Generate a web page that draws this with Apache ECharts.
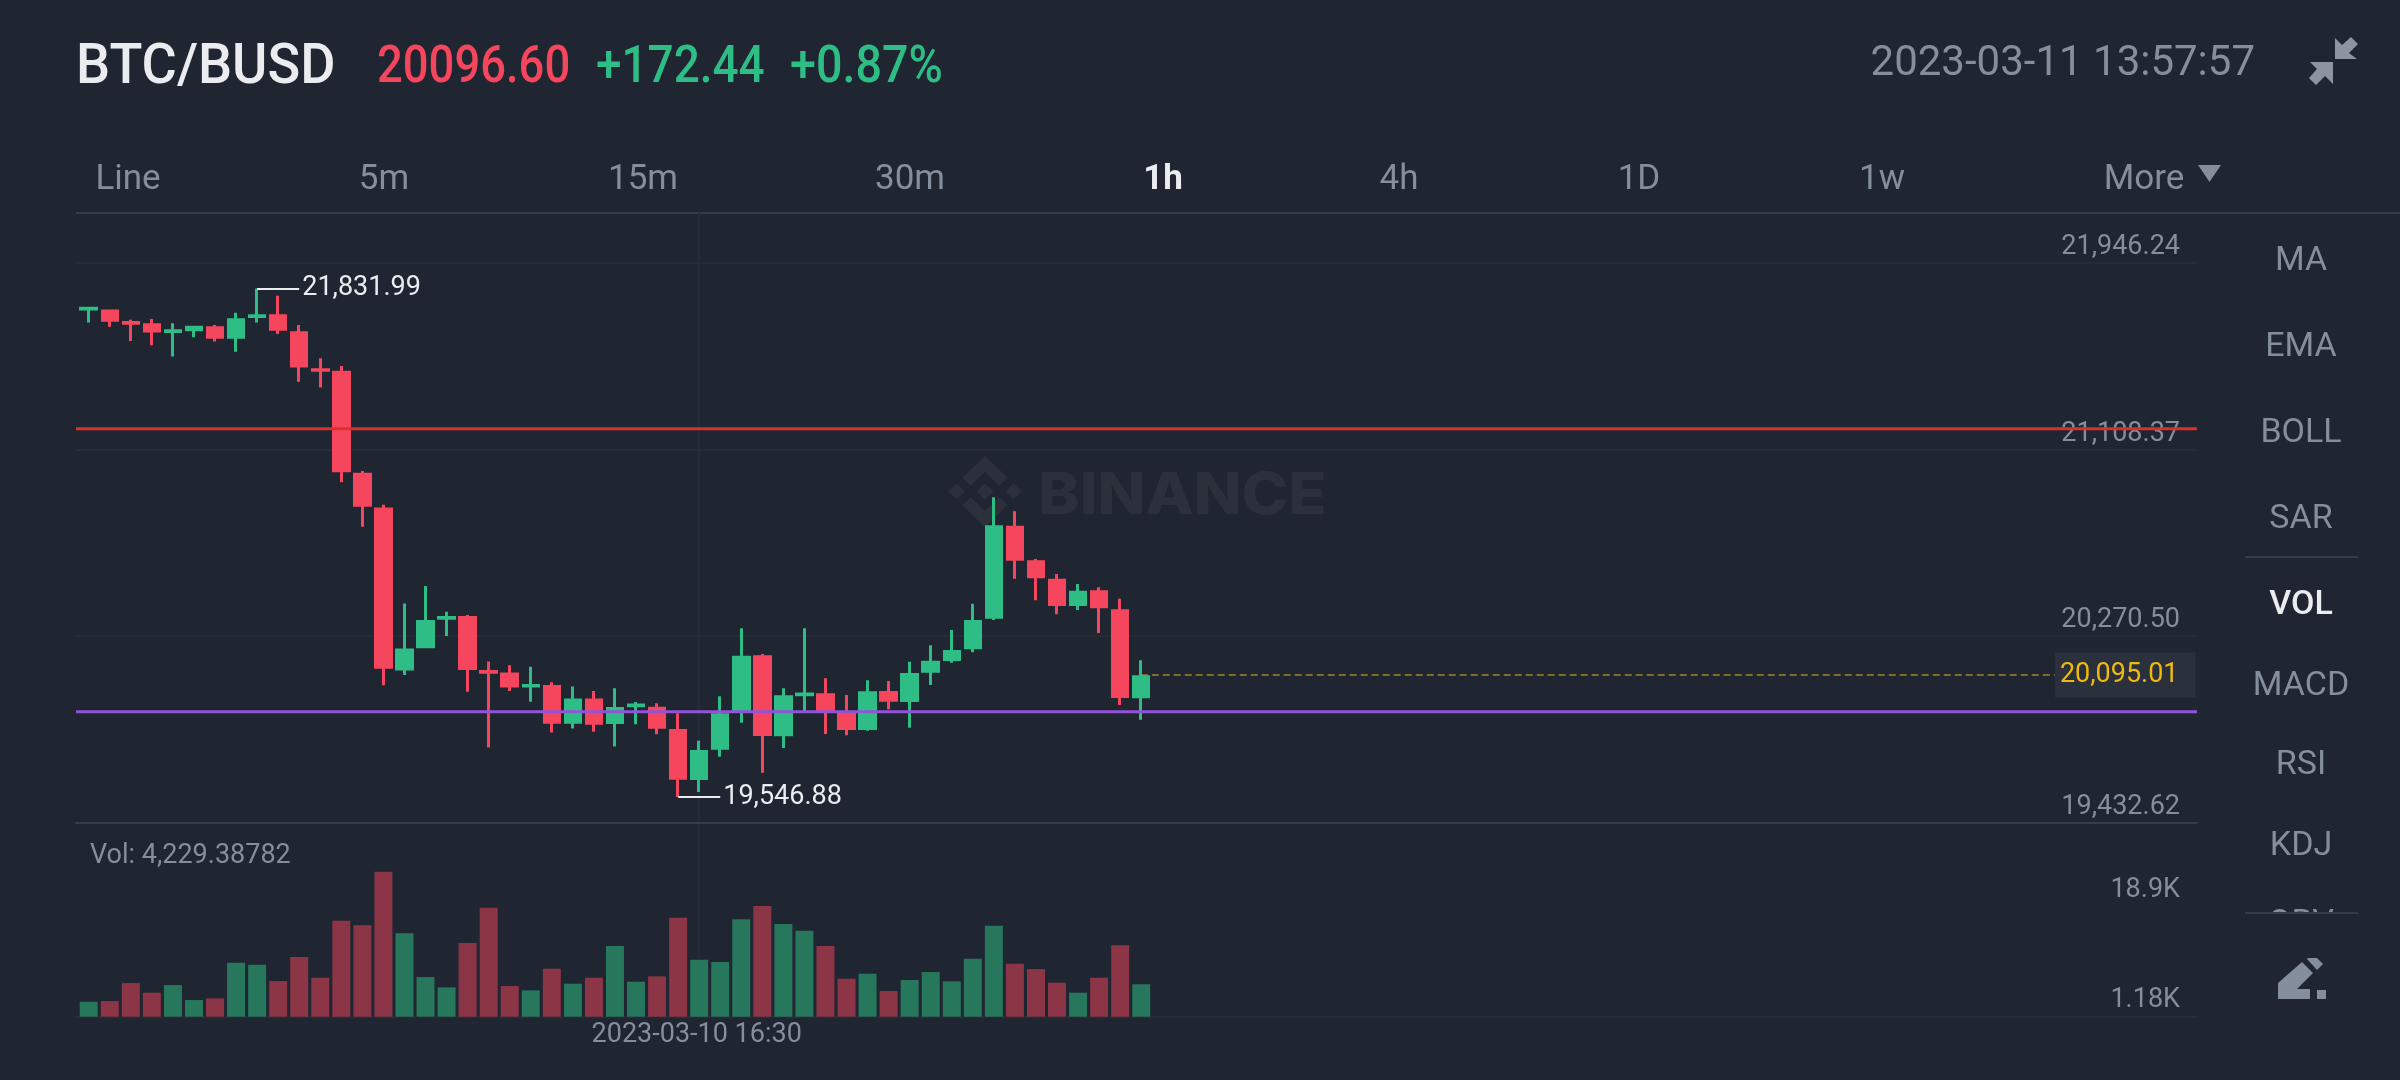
<!DOCTYPE html>
<html>
<head>
<meta charset="utf-8">
<title>BTC/BUSD</title>
<script src="https://cdn.jsdelivr.net/npm/echarts@6/dist/echarts.min.js"></script>
<style>
	html, body { margin: 0; padding: 0; background: #1f2531; }
	#kline { width: 2400px; height: 1080px; }
</style>
</head>
<body>
<div id="kline"></div>
<script>
	// 1h candles
	var times = ['2023-03-09 11:30', '2023-03-09 12:30', '2023-03-09 13:30', '2023-03-09 14:30', '2023-03-09 15:30', '2023-03-09 16:30', '2023-03-09 17:30', '2023-03-09 18:30', '2023-03-09 19:30', '2023-03-09 20:30', '2023-03-09 21:30', '2023-03-09 22:30', '2023-03-09 23:30',
		'2023-03-10 00:30', '2023-03-10 01:30', '2023-03-10 02:30', '2023-03-10 03:30', '2023-03-10 04:30', '2023-03-10 05:30', '2023-03-10 06:30', '2023-03-10 07:30', '2023-03-10 08:30', '2023-03-10 09:30', '2023-03-10 10:30', '2023-03-10 11:30', '2023-03-10 12:30', '2023-03-10 13:30', '2023-03-10 14:30', '2023-03-10 15:30', '2023-03-10 16:30', '2023-03-10 17:30', '2023-03-10 18:30', '2023-03-10 19:30', '2023-03-10 20:30', '2023-03-10 21:30', '2023-03-10 22:30', '2023-03-10 23:30',
		'2023-03-11 00:30', '2023-03-11 01:30', '2023-03-11 02:30', '2023-03-11 03:30', '2023-03-11 04:30', '2023-03-11 05:30', '2023-03-11 06:30', '2023-03-11 07:30', '2023-03-11 08:30', '2023-03-11 09:30', '2023-03-11 10:30', '2023-03-11 11:30', '2023-03-11 12:30', '2023-03-11 13:30'];
	var opens = [21740, 21730.3, 21679, 21669.3, 21639, 21646.8, 21654.9, 21613.1, 21706, 21709.4, 21632.4, 21467, 21455.9, 20997, 20841.4, 20122.5, 20222, 20350, 20353.6, 20111, 20100, 20045.5, 20043.9, 19883.5, 19983, 19881.9,
		19957.5, 19946.3, 19846, 19630.3, 19766.6, 19935.1, 20176.9, 19826.5, 20007, 20006.2, 19920.1, 19855, 20016.7, 19980.7, 20112.5, 20164.9, 20217.3, 20355.1, 20759.4, 20603.7, 20521.3, 20412, 20468.9, 20383.6, 19997.2];
	var closes = [21743, 21688.6, 21676, 21640.4, 21642, 21658.1, 21613.1, 21691.8, 21709, 21648.4, 21483.2, 21464, 21013, 20857.4, 20130.6, 20207.6, 20336, 20353.5, 20124.1, 20108, 20045.5, 20048.5, 19883.5, 19983, 19878.7, 19944.4,
		19960.5, 19860.9, 19631.8, 19751.6, 19916.3, 20175.4, 19828, 19997.2, 20010, 19936.5, 19855, 20015.2, 19982.2, 20097.5, 20153, 20200.9, 20335.6, 20761, 20615.7, 20536.3, 20412, 20467.4, 20401.5, 19998.7, 20087];
	var lows = [21678.9, 21659.7, 21595.5, 21576.2, 21526.5, 21613.1, 21593.9, 21547.3, 21678.9, 21627.6, 21412.6, 21386.9, 20961.7, 20761, 20048.7, 20095.2, 20215.6, 20270.2, 20019.9, 19769.5, 20023, 19974.9, 19836.9, 19854.6, 19840.2, 19774.4,
		19873.7, 19828.7, 19546.88, 19569.7, 19728.4, 19881.1, 19656.5, 19767.3, 19930.6, 19830, 19824.2, 19845, 19941, 19858.7, 20050.4, 20150.7, 20197.1, 20342.4, 20528.1, 20430.7, 20367.8, 20387.3, 20284, 19960.5, 19894.6];
	var highs = [21747.9, 21736.7, 21691.8, 21695, 21675.7, 21664.5, 21667.7, 21722.2, 21831.99, 21799.3, 21667.7, 21518.5, 21483.2, 21011.4, 20860.6, 20416.1, 20494.8, 20379.2, 20364.8, 20156.2, 20138.6, 20132.1, 20063.2, 20043.9, 20023, 20035.9,
		19974, 19968, 19923.1, 19800.3, 20000, 20304.9, 20189.6, 20035.4, 20304.9, 20080.3, 20005.4, 20071.3, 20068.3, 20155.2, 20228.6, 20297.5, 20415.8, 20893.5, 20830.6, 20616.4, 20549, 20504.1, 20489.1, 20438.2, 20161.2];
	var volumes = [1954, 2041, 4386, 3127, 4126, 2172, 2389, 7036, 6775, 4647, 7774, 5081, 12508, 11900, 18892, 10858, 5168, 3822, 9598, 14202, 3996, 3431, 6254, 4300, 5081, 9207,
		4560, 5255, 12899, 7427, 7123, 12682, 14419, 12074, 11205, 9207, 4951, 5602, 3344, 4777, 5820, 4604, 7557, 11856, 6905, 6210, 4430, 3127, 5081, 9294, 4229.38782];

	var priceTicks = [19432.62, 20270.50, 21108.37, 21946.24];
	var volTop = 18900, volBottom = 1180;
	var highPrice = 21831.99, lowPrice = 19546.88, lastPrice = 20095.01;
	var redLevel = 21202, purpleLevel = 19930;

	var tabLabels = ['Line', '5m', '15m', '30m', '1h', '4h', '1D', '1w', 'More'];
	var sideLabels = ['MA', 'EMA', 'BOLL', 'SAR', 'VOL', 'MACD', 'RSI', 'KDJ', 'OBV'];

	var BG = '#1f2531', UP = '#2ebd85', DOWN = '#f6465d', UP_VOL = '#26775c', DOWN_VOL = '#8c3547';
	var GREY = '#848e9c', GRID = '#252b37', SEP = '#363c49';
	var FONT = 'Roboto';

	function money(v) {
		return v.toLocaleString('en-US', { minimumFractionDigits: 2, maximumFractionDigits: 2 });
	}
	function shortK(v) {
		return v >= 10000 ? (v / 1000).toFixed(1) + 'K' : (v / 1000).toFixed(2) + 'K';
	}

	var candleData = [], volData = [];
	for (var i = 0; i < times.length; i++) {
		candleData.push([opens[i], closes[i], lows[i], highs[i]]);
		volData.push({ value: volumes[i], itemStyle: { color: closes[i] >= opens[i] ? UP_VOL : DOWN_VOL } });
	}

	// header, tabs and side menu
	var graphics = [];
	function addText(text, x, y, size, fill, align, weight, squeeze) {
		graphics.push({
			type: 'text', z: 10,
			scaleX: squeeze || 1, originX: x, originY: y,
			style: {
				text: text, x: x, y: y, fill: fill, textAlign: align || 'left', textVerticalAlign: 'middle',
				font: (weight || 'normal') + ' ' + size + 'px ' + FONT
			}
		});
	}
	function addPoly(points, fill, z) {
		graphics.push({ type: 'polygon', z: z || 0, shape: { points: points }, style: { fill: fill } });
	}
	addText('BTC/BUSD', 76, 69, 56, '#eaecef', 'left', '500', 0.965);
	addText('20096.60', 377, 69, 51, DOWN, 'left', '500', 0.89);
	addText('+172.44', 596, 69, 51, UP, 'left', '500', 0.9);
	addText('+0.87%', 790, 69, 51, UP, 'left', '500', 0.915);
	addText('2023-03-11 13:57:57', 2255, 64, 42, GREY, 'right');

	var tabX = [128, 384, 643, 910, 1163, 1399, 1639, 1882, 2144];
	tabLabels.forEach(function(t, i) {
		var on = t === '1h';
		addText(t, tabX[i], 180, 35, on ? '#eaecef' : GREY, 'center', on ? 'bold' : 'normal');
	});
	addPoly([[2198, 165], [2221, 165], [2209.5, 182]], GREY);

	var sideY = [261, 347, 433, 519, 605, 686, 765, 846, 924];
	sideLabels.forEach(function(t, i) {
		var on = t === 'VOL';
		addText(t, 2301, sideY[i], 34, on ? '#eaecef' : GREY, 'center', on ? '500' : 'normal');
	});
	// the list is cut off under this line
	graphics.push({ type: 'rect', z: 11, shape: { x: 2200, y: 913, width: 200, height: 45 }, style: { fill: BG } });
	graphics.push({ type: 'rect', z: 12, shape: { x: 2245, y: 912, width: 113, height: 2 }, style: { fill: SEP } });
	graphics.push({ type: 'rect', z: 12, shape: { x: 2245, y: 556, width: 113, height: 2 }, style: { fill: SEP } });
	graphics.push({ type: 'rect', shape: { x: 76, y: 212, width: 2324, height: 2 }, style: { fill: SEP } });

	addText('Vol: 4,229.38782', 90, 856, 27, GREY);

	// collapse icon
	addPoly([[2335, 59], [2335, 38], [2342, 45], [2351, 37], [2358, 44], [2349, 53], [2357, 59]], '#8c94a1');
	addPoly([[2333, 62], [2310, 62], [2317, 69], [2309, 78], [2316, 85], [2325, 76], [2333, 84]], '#8c94a1');
	// pencil icon
	addPoly([[2278, 999], [2278, 983], [2302, 962], [2313, 973], [2297, 989], [2310, 989], [2310, 999]], GREY);
	addPoly([[2312, 953], [2323, 964], [2317, 970], [2307, 959]], GREY);
	addPoly([[2317, 990], [2326, 990], [2326, 999], [2317, 999]], GREY);

	// watermark, logo outline taken from a 126.6 unit box
	var logoParts = [
		[[38.73, 53.2], [63.32, 28.62], [87.92, 53.22], [102.22, 38.91], [63.32, 0], [24.43, 38.89]],
		[[0, 63.31], [14.3, 49], [28.61, 63.31], [14.3, 77.61]],
		[[38.73, 73.41], [63.32, 98], [87.92, 73.4], [102.23, 87.69], [63.33, 126.6], [24.42, 87.72]],
		[[98.01, 63.31], [112.31, 49.01], [126.62, 63.31], [112.31, 77.62]],
		[[63.32, 48.78], [77.83, 63.3], [63.32, 77.78], [48.81, 63.28]]
	];
	logoParts.forEach(function(part) {
		addPoly(part.map(function(p) { return [948 + p[0] * 0.584, 456 + p[1] * 0.56]; }), '#2b303b', -1);
	});
	graphics.push({
		type: 'text', z: -1, scaleX: 1.08, originX: 1038, originY: 497,
		style: { text: 'BINANCE', x: 1038, y: 497, fill: '#2b303b', textVerticalAlign: 'middle', font: '800 58px Inter' }
	});

	var option = {
		animation: false,
		backgroundColor: BG,
		graphic: graphics,
		grid: [
			{ left: 78.2, width: 2105, top: 213, height: 609.5 },
			{ left: 78.2, width: 2105, top: 822.5, height: 194.2 },
			{ left: 76, width: 2121, top: 213, height: 609.5 },
			{ left: 76, width: 2121, top: 822.5, height: 194.2 }
		],
		xAxis: [{
			type: 'category', gridIndex: 0, data: times, max: 99,
			axisLine: { show: false }, axisTick: { show: false }, axisLabel: { show: false },
			splitLine: { show: true, alignWithLabel: true, interval: function(i) { return i === 29; }, lineStyle: { color: GRID, width: 2 } }
		}, {
			type: 'category', gridIndex: 1, data: times, max: 99,
			axisLine: { show: false }, axisTick: { show: false },
			axisLabel: {
				show: true, interval: function(i) { return i === 29; }, color: GREY, fontFamily: FONT, fontSize: 27, margin: 5,
				padding: [0, 5, 0, 0]
			},
			splitLine: { show: true, alignWithLabel: true, interval: function(i) { return i === 29; }, lineStyle: { color: GRID, width: 2 } }
		}, {
			type: 'value', gridIndex: 2, min: 0, max: 100,
			axisLine: { show: true, onZero: false, lineStyle: { color: SEP, width: 2 } },
			axisTick: { show: false }, axisLabel: { show: false }, splitLine: { show: false }
		}, {
			type: 'value', gridIndex: 3, min: 0, max: 100,
			axisLine: { show: true, onZero: false, lineStyle: { color: GRID, width: 2 } },
			axisTick: { show: false }, axisLabel: { show: false }, splitLine: { show: false }
		}],
		yAxis: [
			{ type: 'value', gridIndex: 0, min: 19432.62, max: 22170.87, show: false },
			{ type: 'value', gridIndex: 1, min: 0, max: 25304, show: false },
			{
				type: 'value', gridIndex: 2, position: 'right', min: 19432.62, max: 22170.87,
				axisLine: { show: false },
				axisTick: { show: false, customValues: priceTicks },
				axisLabel: {
					inside: true, customValues: priceTicks, margin: 17, color: GREY, fontFamily: FONT, fontSize: 27,
					verticalAlign: 'bottom', padding: [0, 0, 2, 0],
					formatter: function(v) { return money(v); }
				},
				splitLine: { show: true, lineStyle: { color: GRID, width: 2 } }
			},
			{
				type: 'value', gridIndex: 3, position: 'right', min: 0, max: 25304,
				axisLine: { show: false },
				axisTick: { show: false, customValues: [volTop] },
				axisLabel: {
					inside: true, customValues: [volTop], margin: 17, color: GREY, fontFamily: FONT, fontSize: 27,
					verticalAlign: 'top', padding: [5, 0, 0, 0], formatter: shortK
				},
				splitLine: { show: false }
			},
			{
				type: 'value', gridIndex: 3, position: 'right', min: 0, max: 25304,
				axisLine: { show: false },
				axisTick: { show: false, customValues: [volBottom] },
				axisLabel: {
					inside: true, customValues: [volBottom], margin: 17, color: GREY, fontFamily: FONT, fontSize: 27,
					verticalAlign: 'bottom', lineHeight: 14, formatter: shortK
				},
				splitLine: { show: false }
			}
		],
		series: [{
			type: 'candlestick', xAxisIndex: 0, yAxisIndex: 0,
			data: candleData, barWidth: 16,
			itemStyle: { color: UP, color0: DOWN, borderColor: UP, borderColor0: DOWN, borderWidth: 3 },
			markLine: {
				silent: true, symbol: 'none', z: 6, animation: false,
				lineStyle: { color: '#eaecef', width: 2, type: 'solid' },
				label: {
					show: true, position: 'end', distance: 3, color: '#eaecef', fontFamily: FONT, fontSize: 27,
					padding: [3, 0, 0, 0], formatter: '{b}'
				},
				data: [
					[{ name: money(highPrice), coord: [8, highPrice] }, { coord: [10, highPrice] }],
					[{ name: money(lowPrice), coord: [28, lowPrice] }, { coord: [30, lowPrice] }]
				]
			}
		}, {
			type: 'bar', xAxisIndex: 1, yAxisIndex: 1, data: volData, barWidth: 18
		}, {
			// drawn level lines
			type: 'line', xAxisIndex: 2, yAxisIndex: 2, z: 5, symbol: 'none', silent: true,
			data: [[0, redLevel], [100, redLevel]],
			lineStyle: { color: '#d9302f', width: 3 }
		}, {
			type: 'line', xAxisIndex: 2, yAxisIndex: 2, z: 5, symbol: 'none', silent: true,
			data: [[0, purpleLevel], [100, purpleLevel]],
			lineStyle: { color: '#9353d9', width: 3 }
		}, {
			// last price
			type: 'line', xAxisIndex: 2, yAxisIndex: 2, z: 1, symbol: 'none', silent: true,
			data: [[50.2, lastPrice], [93.3, lastPrice]],
			lineStyle: { color: '#7f6d2c', width: 2, type: [7, 4] },
			endLabel: {
				show: true, distance: 0, color: '#f0b90b', fontFamily: FONT, fontSize: 27,
				backgroundColor: '#2a303c', padding: [11, 17, 7, 5],
				formatter: function() { return money(lastPrice); }
			}
		}]
	};

	var kline = echarts.init(document.getElementById('kline'));
	kline.setOption(option);
</script>
</body>
</html>
